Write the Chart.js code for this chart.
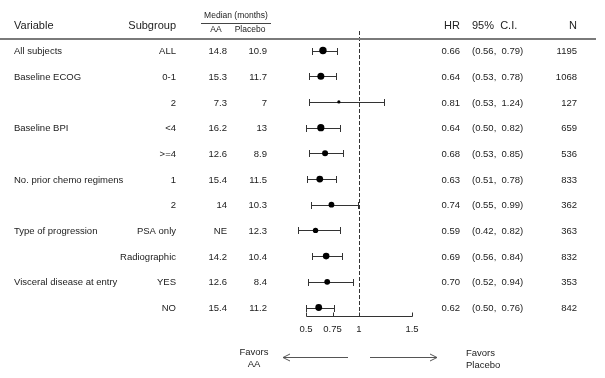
<!DOCTYPE html>
<html>
<head>
<meta charset="utf-8">
<script src="https://cdn.jsdelivr.net/npm/chart.js@4"></script>
<style>
  html, body { margin: 0; padding: 0; background: #ffffff; }
  #wrap { width: 605px; height: 378px; position: relative; }
</style>
</head>
<body>
<div id="wrap"><canvas id="c" width="605" height="378"></canvas></div>
<script>
// ---- data ----
const variables = ["All subjects", "Baseline ECOG", "", "Baseline BPI", "", "No. prior chemo regimens", "", "Type of progression", "", "Visceral disease at entry", ""];
const subgroups = ["ALL", "0-1", "2", "<4", ">=4", "1", "2", "PSA only", "Radiographic", "YES", "NO"];
const medianAA = ["14.8", "15.3", "7.3", "16.2", "12.6", "15.4", "14", "NE", "14.2", "12.6", "15.4"];
const medianPlacebo = ["10.9", "11.7", "7", "13", "8.9", "11.5", "10.3", "12.3", "10.4", "8.4", "11.2"];
const hr = [0.66, 0.64, 0.81, 0.64, 0.68, 0.63, 0.74, 0.59, 0.69, 0.70, 0.62];
const ciLow = [0.56, 0.53, 0.53, 0.50, 0.53, 0.51, 0.55, 0.42, 0.56, 0.52, 0.50];
const ciHigh = [0.79, 0.78, 1.24, 0.82, 0.85, 0.78, 0.99, 0.82, 0.84, 0.94, 0.76];
const nSubjects = [1195, 1068, 127, 659, 536, 833, 362, 363, 832, 353, 842];
const tickValues = [0.5, 0.75, 1, 1.5];
const tickLabels = ["0.5", "0.75", "1", "1.5"];

// ---- styles ----
const markerRadii = [3.7, 3.5, 1.6, 3.6, 3.0, 3.4, 2.9, 2.7, 3.3, 2.9, 3.4];
const FONT = '"Liberation Sans", Arial, sans-serif';
const TXT = '#222222';

function fmt2(v) { return v.toFixed(2); }

const forestPlugin = {
  id: 'forest',
  beforeDatasetsDraw(chart) {
    const ctx = chart.ctx;
    const xs = chart.scales.x, ys = chart.scales.y;
    const ca = chart.chartArea;
    ctx.save();
    // reference dashed line at HR = 1
    ctx.strokeStyle = '#333';
    ctx.lineWidth = 1;
    ctx.setLineDash([4, 2]);
    const x1 = Math.round(xs.getPixelForValue(1)) + 0.5;
    ctx.beginPath();
    ctx.moveTo(x1, ca.top);
    ctx.lineTo(x1, ca.bottom);
    ctx.stroke();
    ctx.setLineDash([]);
    // error bars
    ctx.strokeStyle = '#333';
    for (let i = 0; i < hr.length; i++) {
      const y = Math.round(ys.getPixelForValue(i)) + 0.5;
      const xl = Math.round(xs.getPixelForValue(ciLow[i])) + 0.5;
      const xh = Math.round(xs.getPixelForValue(ciHigh[i])) + 0.5;
      ctx.beginPath();
      ctx.moveTo(xl, y); ctx.lineTo(xh, y);
      ctx.moveTo(xl, y - 3.5); ctx.lineTo(xl, y + 3.5);
      ctx.moveTo(xh, y - 3.5); ctx.lineTo(xh, y + 3.5);
      ctx.stroke();
    }
    // x axis
    const yb = Math.round(ca.bottom) + 0.5;
    const xa = Math.round(xs.getPixelForValue(tickValues[0])) + 0.5;
    const xb = Math.round(xs.getPixelForValue(tickValues[tickValues.length - 1])) + 0.5;
    ctx.strokeStyle = '#333';
    ctx.beginPath();
    ctx.moveTo(xa, yb); ctx.lineTo(xb, yb);
    tickValues.forEach(v => {
      const tx = Math.round(xs.getPixelForValue(v)) + 0.5;
      ctx.moveTo(tx, yb); ctx.lineTo(tx, yb - 4);
    });
    ctx.stroke();
    ctx.fillStyle = TXT;
    ctx.font = '9.5px ' + FONT;
    ctx.textAlign = 'center';
    ctx.textBaseline = 'middle';
    tickValues.forEach((v, k) => {
      ctx.fillText(tickLabels[k], xs.getPixelForValue(v), yb + 13);
    });
    ctx.restore();
  },
  afterDraw(chart) {
    const ctx = chart.ctx;
    const ys = chart.scales.y;
    ctx.save();
    ctx.fillStyle = TXT;
    ctx.textBaseline = 'middle';

    // header
    ctx.font = '11px ' + FONT;
    ctx.textAlign = 'left';
    ctx.fillText('Variable', 14, 26);
    ctx.textAlign = 'right';
    ctx.fillText('Subgroup', 176, 26);
    ctx.fillText('HR', 460, 26);
    ctx.textAlign = 'left';
    ctx.fillText('95%  C.I.', 472, 26);
    ctx.textAlign = 'right';
    ctx.fillText('N', 577, 26);

    ctx.font = '8.5px ' + FONT;
    ctx.textAlign = 'center';
    ctx.fillText('Median (months)', 236, 16);
    ctx.fillText('AA', 216, 30);
    ctx.fillText('Placebo', 250, 30);

    ctx.strokeStyle = '#444';
    ctx.lineWidth = 1;
    ctx.beginPath();
    ctx.moveTo(201, 23.5); ctx.lineTo(271, 23.5);
    ctx.stroke();

    ctx.strokeStyle = '#7a7a7a';
    ctx.lineWidth = 2;
    ctx.beginPath();
    ctx.moveTo(0, 39); ctx.lineTo(596, 39);
    ctx.stroke();

    // rows
    ctx.font = '9.5px ' + FONT;
    for (let i = 0; i < hr.length; i++) {
      const y = ys.getPixelForValue(i) + 1;
      ctx.textAlign = 'left';
      if (variables[i]) ctx.fillText(variables[i], 14, y);
      ctx.textAlign = 'right';
      ctx.fillText(subgroups[i], 176, y);
      ctx.fillText(medianAA[i], 227, y);
      ctx.fillText(medianPlacebo[i], 267, y);
      ctx.fillText(fmt2(hr[i]), 460, y);
      ctx.textAlign = 'left';
      ctx.fillText('(' + fmt2(ciLow[i]) + ',  ' + fmt2(ciHigh[i]) + ')', 472, y);
      ctx.textAlign = 'right';
      ctx.fillText(String(nSubjects[i]), 577, y);
    }

    // favors labels and arrows
    ctx.textAlign = 'center';
    ctx.fillText('Favors', 254, 352);
    ctx.fillText('AA', 254, 364);
    ctx.textAlign = 'left';
    ctx.fillText('Favors', 466, 353);
    ctx.fillText('Placebo', 466, 365);

    ctx.strokeStyle = '#555';
    ctx.lineWidth = 1;
    ctx.beginPath();
    ctx.moveTo(283, 357.5); ctx.lineTo(348, 357.5);
    ctx.moveTo(290, 354); ctx.lineTo(283, 357.5); ctx.lineTo(290, 361);
    ctx.moveTo(370, 357.5); ctx.lineTo(437, 357.5);
    ctx.moveTo(430, 354); ctx.lineTo(437, 357.5); ctx.lineTo(430, 361);
    ctx.stroke();
    ctx.restore();
  }
};

new Chart(document.getElementById('c'), {
  type: 'scatter',
  data: {
    datasets: [{
      data: hr.map((v, i) => ({ x: v, y: i })),
      backgroundColor: '#000000',
      borderColor: '#000000',
      borderWidth: 0,
      pointRadius: markerRadii,
      pointHoverRadius: markerRadii,
      clip: false
    }]
  },
  options: {
    responsive: false,
    animation: false,
    devicePixelRatio: 1,
    layout: { padding: { left: 306, right: 193, top: 31, bottom: 62 } },
    plugins: { legend: { display: false }, tooltip: { enabled: false } },
    events: [],
    scales: {
      x: { type: 'linear', min: 0.5, max: 1.5, display: false },
      y: { type: 'linear', min: -0.76, max: 10.33, reverse: true, display: false }
    }
  },
  plugins: [forestPlugin]
});
</script>
</body>
</html>
